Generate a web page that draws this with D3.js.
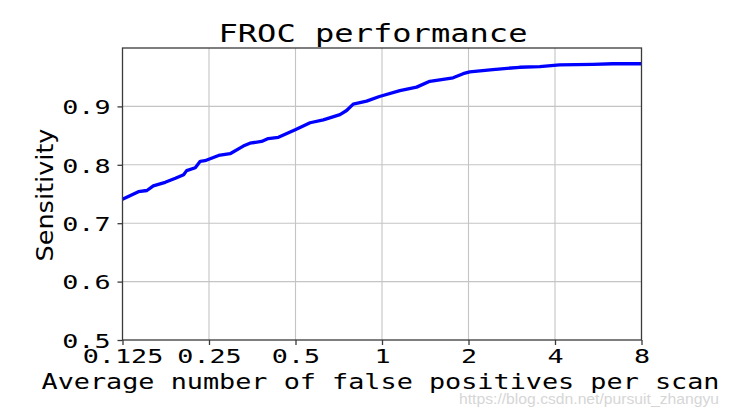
<!DOCTYPE html>
<html>
<head>
<meta charset="utf-8">
<script src="https://cdn.jsdelivr.net/npm/d3@7"></script>
<style>
  body { margin: 0; background: #fff; }
  svg { display: block; }
</style>
</head>
<body>
<div id="app"></div>
<script>
// FROC curve values
const falsePositives = [0.125, 0.142, 0.152, 0.160, 0.176, 0.191, 0.204, 0.209, 0.224, 0.233,
  0.242, 0.270, 0.296, 0.329, 0.347, 0.381, 0.402, 0.436, 0.499, 0.562,
  0.625, 0.714, 0.753, 0.794, 0.884, 0.98, 1.154, 1.32, 1.467, 1.768,
  1.916, 2.02, 2.43, 3.01, 3.54, 4.15, 5.42, 6.36, 8];
const sensitivity = [0.741, 0.754, 0.756, 0.764, 0.770, 0.777, 0.783, 0.790, 0.795, 0.806,
  0.807, 0.816, 0.819, 0.832, 0.837, 0.840, 0.845, 0.847, 0.860, 0.872,
  0.877, 0.886, 0.893, 0.904, 0.909, 0.917, 0.927, 0.933, 0.943, 0.949,
  0.956, 0.959, 0.963, 0.967, 0.968, 0.971, 0.972, 0.973, 0.973];
const xTicks = [0.125, 0.25, 0.5, 1, 2, 4, 8];
const xTickLabels = ['0.125', '0.25', '0.5', '1', '2', '4', '8'];
const yTicks = [0.5, 0.6, 0.7, 0.8, 0.9];

const W = 729, H = 417;
const plotL = 122.5, plotR = 641.5, plotT = 48, plotB = 340;
const mono = '"DejaVu Sans Mono", monospace';
const charW = 16.1; // the picture is stretched sideways

const svg = d3.select('#app').append('svg').attr('width', W).attr('height', H);

const x = d3.scaleLog().base(2).domain([0.125, 8]).range([plotL, plotR]);
const y = d3.scaleLinear().domain([0.5, 1.0]).range([plotB, plotT]);

// grid
const grid = svg.append('g');
grid.selectAll('.gx').data(xTicks.slice(1, -1)).enter().append('line')
    .attr('x1', d => x(d)).attr('x2', d => x(d))
    .attr('y1', plotT).attr('y2', plotB)
    .attr('stroke', '#c4c4c4').attr('stroke-width', 1.1);
grid.selectAll('.gy').data(yTicks.slice(1)).enter().append('line')
    .attr('x1', plotL).attr('x2', plotR)
    .attr('y1', d => y(d)).attr('y2', d => y(d))
    .attr('stroke', '#c4c4c4').attr('stroke-width', 1.1);

// curve
const pts = falsePositives.map((f, i) => [f, sensitivity[i]]);
svg.append('path')
    .datum(pts)
    .attr('fill', 'none')
    .attr('stroke', '#0000ff')
    .attr('stroke-width', 3.3)
    .attr('stroke-linejoin', 'round')
    .attr('d', d3.line().x(d => x(d[0])).y(d => y(d[1])));

// frame
svg.append('rect')
    .attr('x', plotL).attr('y', plotT)
    .attr('width', plotR - plotL).attr('height', plotB - plotT)
    .attr('fill', 'none').attr('stroke', '#3a3a3a').attr('stroke-width', 1.3);

// axes
const xAxis = svg.append('g')
    .attr('transform', `translate(0,${plotB})`)
    .call(d3.axisBottom(x).tickValues(xTicks).tickFormat((d, i) => xTickLabels[i]).tickSize(5).tickPadding(4));
const yAxis = svg.append('g')
    .attr('transform', `translate(${plotL},0)`)
    .call(d3.axisLeft(y).tickValues(yTicks).tickFormat(d3.format('.1f')).tickSize(5).tickPadding(7));

[xAxis, yAxis].forEach(g => {
  g.select('.domain').remove();
  g.selectAll('line').attr('stroke', '#3a3a3a').attr('stroke-width', 1.3);
  g.selectAll('text')
      .attr('font-family', mono)
      .attr('font-size', '20px')
      .attr('fill', '#000')
      .attr('textLength', function () { return this.textContent.length * charW; })
      .attr('lengthAdjust', 'spacingAndGlyphs');
});
xAxis.selectAll('text').attr('dy', '0.72em');
yAxis.selectAll('text').attr('dy', '0.36em');

// title
svg.append('text')
    .attr('x', 218.5).attr('y', 41.5)
    .attr('font-family', mono).attr('font-size', '25px')
    .attr('textLength', 309).attr('lengthAdjust', 'spacingAndGlyphs')
    .text('FROC performance');

// x label
svg.append('text')
    .attr('x', 41.5).attr('y', 389)
    .attr('font-family', mono).attr('font-size', '20.5px')
    .attr('textLength', 678).attr('lengthAdjust', 'spacingAndGlyphs')
    .text('Average number of false positives per scan');

// y label
svg.append('text')
    .attr('transform', 'translate(53,195) rotate(-90)')
    .attr('text-anchor', 'middle')
    .attr('font-family', '"DejaVu Sans", sans-serif').attr('font-size', '23px')
    .attr('textLength', 133).attr('lengthAdjust', 'spacingAndGlyphs')
    .text('Sensitivity');

// watermark
svg.append('text')
    .attr('x', 459).attr('y', 404)
    .attr('font-family', '"Liberation Sans", Arial, sans-serif').attr('font-size', '14px')
    .attr('fill', '#d6d6d6')
    .attr('textLength', 260).attr('lengthAdjust', 'spacingAndGlyphs')
    .text('https://blog.csdn.net/pursuit_zhangyu');
</script>
</body>
</html>
